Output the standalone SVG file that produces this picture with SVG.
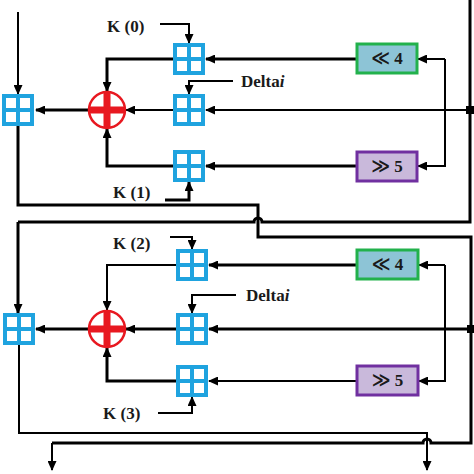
<svg xmlns="http://www.w3.org/2000/svg" width="474" height="474" viewBox="0 0 474 474">
<defs>
<marker id="ah" markerUnits="userSpaceOnUse" markerWidth="10" markerHeight="9" refX="9" refY="4.5" orient="auto"><path d="M0,0 L10,4.5 L0,9 z" fill="#000"/></marker>
<g id="adder"><rect x="0" y="0" width="32" height="32" fill="#1FA3DF"/><rect x="4" y="4" width="10" height="10" fill="#fff"/><rect x="18" y="4" width="10" height="10" fill="#fff"/><rect x="4" y="18" width="10" height="10" fill="#fff"/><rect x="18" y="18" width="10" height="10" fill="#fff"/></g>
<g id="xor"><circle cx="0" cy="0" r="18" fill="#fff" stroke="#E81820" stroke-width="2.5"/><rect x="-18" y="-3.5" width="36" height="7" fill="#E81820"/><rect x="-3.5" y="-18" width="7" height="36" fill="#E81820"/></g>
</defs>
<style>
.w{fill:none;stroke:#000;stroke-width:3}
.t{fill:none;stroke:#000;stroke-width:2}
.a{marker-end:url(#ah)}
.lbl{font-family:"Liberation Serif","Times New Roman",serif;font-weight:bold;font-size:17px;fill:#1a1a1a}
.rl{fill:#8DC4D6;stroke:#22B14C;stroke-width:3}
.rr{fill:#C9B9DB;stroke:#7030A0;stroke-width:3}
.sym{font-family:"Liberation Serif","Times New Roman",serif;font-weight:bold;font-size:17px;fill:#1a1a1a}
.ch{font-family:"DejaVu Sans",sans-serif;font-size:18px;font-weight:bold}
</style>
<rect width="474" height="474" fill="#fff"/>
<g id="connectors">
<!-- top section -->
<path class="t a" d="M18,12 V94"/>
<path class="w a" d="M89,110 H36"/>
<path class="w a" d="M357,59 H206"/>
<path class="w a" d="M173,59 H107 V91"/>
<path class="t a" d="M470,110 H206"/>
<path class="t a" d="M173,110 H126"/>
<path class="w a" d="M357,166 H206"/>
<path class="w a" d="M173,166 H107 V129"/>
<path class="t a" d="M445,59 V166 H418"/>
<path class="t a" d="M445,59 H418"/>
<path class="t a" d="M160,24 H189 V43"/>
<path class="t a" d="M233,81 H189 V94"/>
<path class="w a" d="M165,200 H189 V182"/>
<path class="w" d="M470,0 V222 H262 A4,4 0 0 0 254,222 H18"/>
<path class="w a" d="M18,222 V313"/>
<rect x="466" y="106" width="8" height="8" fill="#000"/>
<!-- cross link -->
<path class="w" d="M18,126 V205 H258 V237 H471 V443 H431 A4,4 0 0 0 423,443 H52"/>
<path class="t a" d="M52,443 V470"/>
<!-- bottom section -->
<path class="w a" d="M88,329 H36"/>
<path class="w a" d="M357,265 H209"/>
<path class="t a" d="M176,265 H107 V310"/>
<path class="w a" d="M471,329 H209"/>
<path class="w a" d="M176,329 H126"/>
<path class="t a" d="M357,381 H209"/>
<path class="w a" d="M176,381 H107 V348"/>
<path class="t a" d="M445,265 V381 H419"/>
<path class="t a" d="M445,265 H419"/>
<path class="t a" d="M170,237 H192 V249"/>
<path class="t a" d="M236,295 H192 V313"/>
<path class="t a" d="M158,413 H192 V397"/>
<path class="t" d="M19,345 V433 H427 V443"/>
<path class="t a" d="M427,443 V470"/>
<rect x="467" y="325" width="8" height="8" fill="#000"/>
</g>
<g id="add-left-1"><use href="#adder" x="2" y="94"/></g>
<g id="xor-1"><use href="#xor" x="107" y="110"/></g>
<g id="add-k0"><use href="#adder" x="173" y="43"/></g>
<g id="add-delta-1"><use href="#adder" x="173" y="94"/></g>
<g id="add-k1"><use href="#adder" x="173" y="150"/></g>
<g id="shl-1"><rect class="rl" x="357" y="44" width="60" height="29"/><text class="sym" x="387" y="64" text-anchor="middle"><tspan class="ch">≪</tspan> 4</text></g>
<g id="shr-1"><rect class="rr" x="357" y="152" width="60" height="29"/><text class="sym" x="387" y="172" text-anchor="middle"><tspan class="ch">≫</tspan> 5</text></g>
<g id="add-left-2"><use href="#adder" x="3" y="313"/></g>
<g id="xor-2"><use href="#xor" x="107" y="329"/></g>
<g id="add-k2"><use href="#adder" x="176" y="249"/></g>
<g id="add-delta-2"><use href="#adder" x="176" y="313"/></g>
<g id="add-k3"><use href="#adder" x="176" y="365"/></g>
<g id="shl-2"><rect class="rl" x="357" y="250" width="61" height="29"/><text class="sym" x="387.5" y="270" text-anchor="middle"><tspan class="ch">≪</tspan> 4</text></g>
<g id="shr-2"><rect class="rr" x="357" y="366" width="61" height="29"/><text class="sym" x="387.5" y="386" text-anchor="middle"><tspan class="ch">≫</tspan> 5</text></g>
<g id="labels">
<text class="lbl" x="107" y="32">K (0)</text>
<text class="lbl" x="113" y="198">K (1)</text>
<text class="lbl" x="113" y="249">K (2)</text>
<text class="lbl" x="103" y="419">K (3)</text>
<text class="lbl" x="241" y="87">Delta<tspan font-style="italic">i</tspan></text>
<text class="lbl" x="246" y="301">Delta<tspan font-style="italic">i</tspan></text>
</g>
</svg>
